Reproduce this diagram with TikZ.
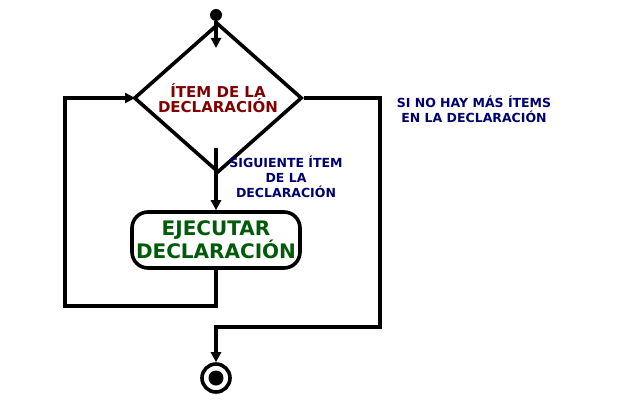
\documentclass[tikz,border=0pt]{standalone}
\usepackage{fontspec}
\setmainfont{DejaVu Sans}
\usetikzlibrary{shapes.geometric,arrows.meta}
\definecolor{dred}{RGB}{128,0,0}
\definecolor{dgreen}{RGB}{0,90,10}
\definecolor{navy}{RGB}{0,0,110}
\begin{document}
\begin{tikzpicture}[x=1pt,y=-1pt,
  line/.style={line width=3.6pt,line join=miter},
  lbl/.style={font=\bfseries\fontsize{12.5}{15}\selectfont,text=navy,align=center}]
\useasboundingbox[fill=white] (0,0) rectangle (640,420);
\node[circle,fill=black,minimum size=12pt,inner sep=0] (start) at (216,15) {};
\node[diamond,draw,line width=3.6pt,minimum width=168pt,minimum height=100pt,inner sep=0,
  font=\bfseries\fontsize{15}{15}\selectfont,text=dred,align=center] (dec) at (218,98) {ÍTEM DE LA\\DECLARACIÓN};
\node[draw,line width=3.6pt,rounded corners=16pt,minimum width=168pt,minimum height=56pt,
  font=\bfseries\fontsize{20}{23}\selectfont,text=dgreen,align=center] (box) at (216,240) {EJECUTAR\\DECLARACIÓN};
\node[circle,draw,line width=3.6pt,minimum size=28pt,inner sep=0] (end) at (216,378) {};
\node[circle,fill=black,minimum size=15pt,inner sep=0] at (end) {};
\node[lbl] (l1) at (286,177) {SIGUIENTE ÍTEM\\DE LA\\DECLARACIÓN};
\node[lbl] (l2) at (474,109) {SI NO HAY MÁS ÍTEMS\\EN LA DECLARACIÓN};
\coordinate (b1) at (216,306);
\coordinate (b2) at (65,306);
\coordinate (b3) at (65,98);
\coordinate (r1) at (380,98);
\coordinate (r2) at (380,327);
\coordinate (r3) at (216,327);
\draw[line,-{Triangle[length=10pt,width=10pt]}] (start) -- (216,48);
\draw[line,-{Triangle[length=10pt,width=10pt]}] (216,148) -- (box.north);
\draw[line] (box.south) -- (b1) -- (b2) -- (b3) -- (dec.west);
\draw[line,-{Triangle[length=10pt,width=10pt]}] (b3) -- ++(70,0);
\draw[line,-{Triangle[length=10pt,width=10pt]}] (dec.east) -- (r1) -- (r2) -- (r3) -- (end.north);
\end{tikzpicture}
\end{document}
